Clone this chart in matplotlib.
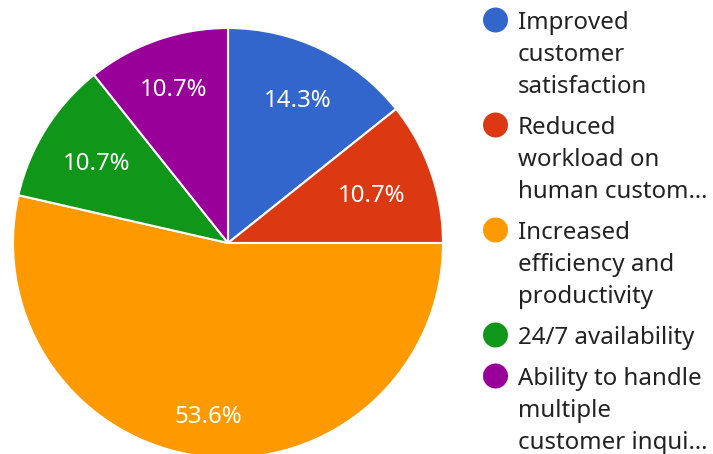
import matplotlib
matplotlib.use('Agg')
import numpy as np
import matplotlib.pyplot as plt
from matplotlib.patches import Circle

plt.rcParams['font.family'] = ['Noto Sans', 'DejaVu Sans']

# responses per option (28 in total)
labels = [
    ['Improved', 'customer', 'satisfaction'],
    ['Reduced', 'workload on', 'human custom…'],
    ['Increased', 'efficiency and', 'productivity'],
    ['24/7 availability'],
    ['Ability to handle', 'multiple', 'customer inqui…'],
]
counts = [4, 3, 15, 3, 3]
colors = ['#3366cc', '#dc3912', '#ff9900', '#109618', '#990099']

W, H = 713, 454
cx, cy, radius = 228, H - 243, 215
# radial position of the percent label in each slice (fraction of radius)
pct_dist = [0.75, 0.71, 0.80, 0.72, 0.77]

fig = plt.figure(figsize=(W / 100, H / 100), dpi=100)
ax = fig.add_axes([0, 0, 1, 1])

size_font = 17.3
wedges, _ = ax.pie(counts,
    colors=colors,
    center=(cx, cy),
    radius=radius,
    startangle=90,
    counterclock=False,
    wedgeprops=dict(edgecolor='white', linewidth=1.5),
)

total = float(np.sum(counts))
for ind, w in enumerate(wedges):
    ang = np.deg2rad((w.theta1 + w.theta2) / 2.0)
    d = pct_dist[ind] * radius
    ax.text(cx + d * np.cos(ang), cy + d * np.sin(ang),
        '{:.1f}%'.format(100.0 * counts[ind] / total),
        color='white', fontsize=size_font, ha='center', va='center_baseline')

# legend drawn by hand, one text per line
y_pix = 20
for ind, lines in enumerate(labels):
    ax.add_patch(Circle((495.5, H - y_pix), 12.5, facecolor=colors[ind],
        edgecolor='none', clip_on=False))
    for str_line in lines:
        ax.text(518, H - y_pix, str_line, fontsize=size_font, color='#222222',
            ha='left', va='center_baseline')
        y_pix += 32
    y_pix += 9

ax.set_xlim(0, W)
ax.set_ylim(0, H)
ax.set_aspect('auto')
ax.axis('off')

plt.savefig('out.png', dpi=100)
